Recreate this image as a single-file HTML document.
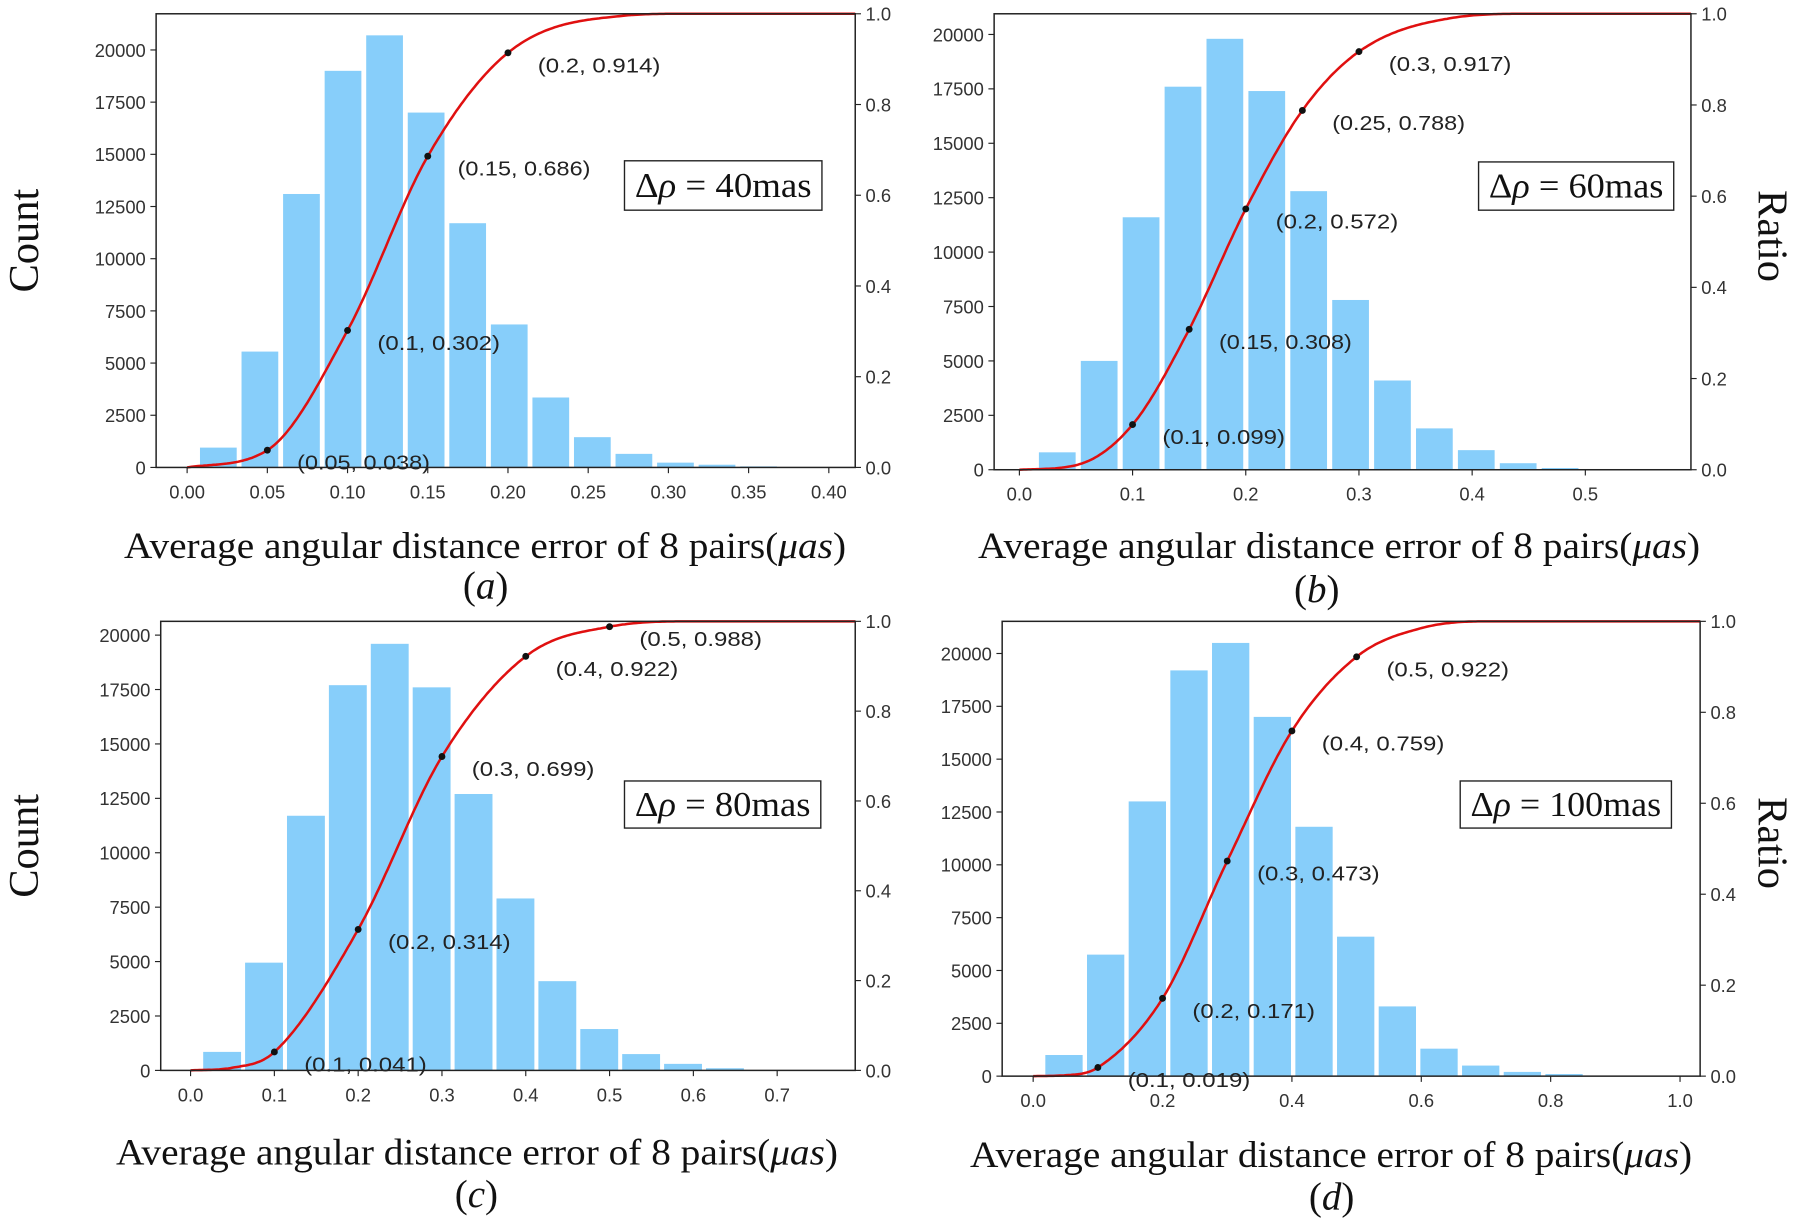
<!DOCTYPE html>
<html><head><meta charset="utf-8"><style>html,body{margin:0;padding:0;background:#fff}svg{display:block}</style></head>
<body>
<svg id="s" xmlns="http://www.w3.org/2000/svg" width="1800" height="1222" viewBox="0 0 1568 1064" preserveAspectRatio="none"></svg>
<script>
const P=[
{L:136,R:745,T:12,B:407,x0:163,xs:(722-163)/0.40,y20:43.5,bar0:174.2,step:36.2,bw:32,
 h:[950,5550,13100,19000,20700,17000,11700,6850,3350,1450,650,230,130,50],
 xt:[0,.05,.1,.15,.2,.25,.3,.35,.4],xd:2,
 pts:[[.05,.038],[.1,.302],[.15,.686],[.2,.914]],
 cp:[[0,0],[.05,.038],[.1,.302],[.15,.686],[.2,.914],[.27,.995],[.31,1],[.5,1]],
 box:[544,140,172,43],bt:"40mas",xl:[423,486,108,737],sub:[423,521,"a"],count:1},
{L:866,R:1473,T:12,B:409,x0:888,xs:(1381-888)/0.5,y20:30,bar0:905,step:36.5,bw:32,
 h:[800,5000,11600,17600,19800,17400,12800,7800,4100,1900,900,300,80],
 xt:[0,.1,.2,.3,.4,.5],xd:1,
 pts:[[.1,.099],[.15,.308],[.2,.572],[.25,.788],[.3,.917]],
 cp:[[0,0],[.05,.01],[.1,.099],[.15,.308],[.2,.572],[.25,.788],[.3,.917],[.38,.99],[.45,1],[.7,1]],
 box:[1288,141,170,42],bt:"60mas",xl:[1166,486,852,1481],sub:[1147,524,"b"],ratio:1},
{L:140,R:745,T:541,B:932,x0:166,xs:(677-166)/0.7,y20:553,bar0:177,step:36.5,bw:33,
 h:[850,4950,11700,17700,19600,17600,12700,7900,4100,1900,750,300,100],
 xt:[0,.1,.2,.3,.4,.5,.6,.7],xd:1,
 pts:[[.1,.041],[.2,.314],[.3,.699],[.4,.922],[.5,.988]],
 cp:[[0,0],[.05,.006],[.1,.041],[.2,.314],[.3,.699],[.4,.922],[.5,.988],[.6,1],[1,1]],
 box:[544,680,171,41],bt:"80mas",xl:[415,1014,101,730],sub:[415,1051,"c"],count:1},
{L:873,R:1481,T:541,B:937,x0:900,xs:(1463.5-900)/1.0,y20:569,bar0:910.6,step:36.3,bw:32.5,
 h:[1000,5750,13000,19200,20500,17000,11800,6600,3300,1300,500,200,100],
 xt:[0,.2,.4,.6,.8,1.0],xd:1,
 pts:[[.1,.019],[.2,.171],[.3,.473],[.4,.759],[.5,.922]],
 cp:[[0,0],[.05,.002],[.1,.019],[.2,.171],[.3,.473],[.4,.759],[.5,.922],[.6,.985],[.7,1],[1.1,1]],
 box:[1272,680,184,41],bt:"100mas",xl:[1160,1016,845,1474],sub:[1160,1053,"d"],ratio:1}
];
function mono(pts){const n=pts.length,x=pts.map(p=>p[0]),y=pts.map(p=>p[1]);const d=[],m=[];
for(let i=0;i<n-1;i++)d.push((y[i+1]-y[i])/(x[i+1]-x[i]));
m[0]=d[0];m[n-1]=d[n-2];for(let i=1;i<n-1;i++){m[i]=(d[i-1]*d[i]<=0)?0:(d[i-1]+d[i])/2;}
for(let i=0;i<n-1;i++){if(d[i]==0){m[i]=0;m[i+1]=0;continue;}const a=m[i]/d[i],b=m[i+1]/d[i],s=a*a+b*b;if(s>9){const t=3/Math.sqrt(s);m[i]=t*a*d[i];m[i+1]=t*b*d[i];}}
return function(v){let i=0;while(i<n-2&&v>x[i+1])i++;const h=x[i+1]-x[i],t=(v-x[i])/h,t2=t*t,t3=t2*t;
return (2*t3-3*t2+1)*y[i]+(t3-2*t2+t)*h*m[i]+(-2*t3+3*t2)*y[i+1]+(t3-t2)*h*m[i+1];};}
let o='';
const tf='font-family="Liberation Sans, DejaVu Sans, sans-serif" font-size="16" fill="#333"';
const af='font-family="Liberation Sans, DejaVu Sans, sans-serif" font-size="18" fill="#222"';
for(const p of P){
 const cy=v=>p.B-v*(p.B-p.y20)/20000, ry=r=>p.B-r*(p.B-p.T), px=v=>p.x0+v*p.xs;
 p.h.forEach((h,i)=>{const x=p.bar0+i*p.step;o+=`<rect x="${x}" y="${cy(h)}" width="${p.bw}" height="${p.B-cy(h)}" fill="#87cefa"/>`;});
 const f=mono(p.cp);let d='';const xe=(p.R-p.x0)/p.xs;
 for(let k=0;k<=300;k++){const v=xe*k/300;let r=Math.min(1,Math.max(0,f(v)));d+=(k?'L':'M')+px(v).toFixed(1)+','+ry(r).toFixed(1);}
 o+=`<path d="${d}" fill="none" stroke="#e01010" stroke-width="2.2"/>`;
 p.pts.forEach(([a,b])=>{const s=`(${a}, ${b.toFixed(3)})`;o+=`<circle cx="${px(a)}" cy="${ry(b)}" r="3" fill="#111"/><text x="${px(a)+26}" y="${ry(b)+17}" ${af} textLength="${s.length*8.9}" lengthAdjust="spacingAndGlyphs">${s}</text>`;});
 o+=`<rect x="${p.L}" y="${p.T}" width="${p.R-p.L}" height="${p.B-p.T}" fill="none" stroke="#222" stroke-width="1.3"/>`;
 for(let v=0;v<=20000;v+=2500){const y=cy(v);o+=`<line x1="${p.L-5}" x2="${p.L}" y1="${y}" y2="${y}" stroke="#222"/><text x="${p.L-9}" y="${y+6}" text-anchor="end" ${tf}>${v}</text>`;}
 for(let r=0;r<=5;r++){const y=ry(r/5);o+=`<line x1="${p.R}" x2="${p.R+5}" y1="${y}" y2="${y}" stroke="#222"/><text x="${p.R+9}" y="${y+6}" ${tf}>${(r/5).toFixed(1)}</text>`;}
 p.xt.forEach(v=>{const x=px(v);o+=`<line x1="${x}" x2="${x}" y1="${p.B}" y2="${p.B+5}" stroke="#222"/><text x="${x}" y="${p.B+27}" text-anchor="middle" ${tf}>${v.toFixed(p.xd)}</text>`;});
 const b=p.box, tw=b[2]-18;
 o+=`<rect x="${b[0]}" y="${b[1]}" width="${b[2]}" height="${b[3]}" fill="#fff" stroke="#222" stroke-width="1.2"/><text x="${b[0]+9}" y="${b[1]+b[3]/2+10}" font-family="Liberation Serif, serif" font-size="30" fill="#111" textLength="${tw}" lengthAdjust="spacingAndGlyphs">Δ<tspan font-style="italic">ρ</tspan> = ${p.bt}</text>`;
 o+=`<text x="${p.xl[2]}" y="${p.xl[1]}" font-family="Liberation Serif, serif" font-size="32" fill="#111" textLength="${p.xl[3]-p.xl[2]}" lengthAdjust="spacingAndGlyphs">Average angular distance error of 8 pairs(<tspan font-style="italic">μas</tspan>)</text>`;
 o+=`<text x="${p.sub[0]}" y="${p.sub[1]}" text-anchor="middle" font-family="Liberation Serif, serif" font-size="34" fill="#111">(<tspan font-style="italic">${p.sub[2]}</tspan>)</text>`;
 const mid=(p.T+p.B)/2;
 if(p.count)o+=`<text transform="translate(33,${mid}) rotate(-90)" text-anchor="middle" font-family="Liberation Serif, serif" font-size="37" fill="#111">Count</text>`;
 if(p.ratio)o+=`<text transform="translate(1532,${mid-5}) rotate(90)" text-anchor="middle" font-family="Liberation Serif, serif" font-size="37" fill="#111">Ratio</text>`;
}
document.getElementById('s').innerHTML=o;
</script>
</body></html>
